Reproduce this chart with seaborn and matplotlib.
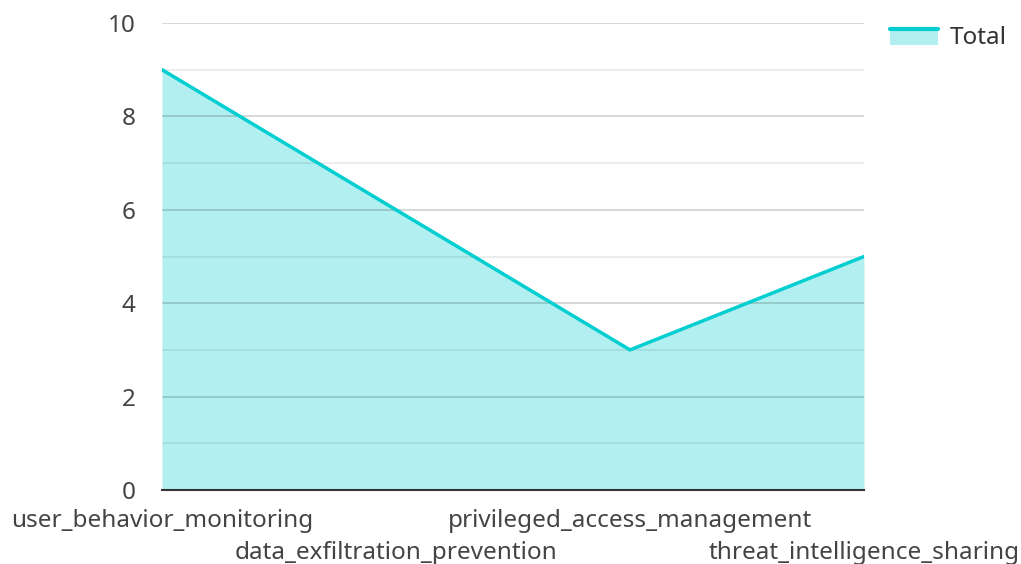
import numpy as np
import pandas as pd
import matplotlib
matplotlib.use("Agg")
import matplotlib.pyplot as plt
import seaborn as sns
from matplotlib.patches import Rectangle
from matplotlib.lines import Line2D
from matplotlib.legend_handler import HandlerBase

# data
categories = ["user_behavior_monitoring", "data_exfiltration_prevention",
              "privileged_access_management", "threat_intelligence_sharing"]
totals = [9, 6, 3, 5]

df = pd.DataFrame({"pos": np.arange(len(categories)), "category": categories, "Total": totals})

sns.set_theme(style="white")
plt.rcParams['font.family'] = ['Noto Sans', 'DejaVu Sans']

line_color = "#00CED1"
fill_color = "#B2EFF0"


# legend key: filled box with the line along its top edge
class AreaHandler(HandlerBase):
    def create_artists(self, legend, orig_handle, xdescent, ydescent, width, height, fontsize, trans):
        top = -ydescent + height * 0.85
        r = Rectangle((-xdescent, -ydescent - height * 0.1), width, top + ydescent + height * 0.1,
                      facecolor=fill_color, edgecolor="none", transform=trans)
        l = Line2D([-xdescent, -xdescent + width], [top, top], color=line_color, linewidth=3, transform=trans)
        return [r, l]


fig = plt.figure(figsize=(10.21, 5.64), dpi=100)
ax = fig.add_axes([0.1587, 0.1312, 0.6875, 0.828])

ax.fill_between(df["pos"], df["Total"], 0, color=fill_color, linewidth=0, zorder=1)
sns.lineplot(data=df, x="pos", y="Total", color=line_color, linewidth=2.5, ax=ax, zorder=3)

# grid on top of the fill
for v in range(1, 11):
    major = v % 2 == 0
    ax.axhline(v, color="black", alpha=0.2 if major else 0.09, linewidth=1.1, zorder=2)

ax.set_xlim(0, len(categories) - 1)
ax.set_ylim(0, 10)
ax.set_yticks([0, 2, 4, 6, 8, 10])
ax.set_xticks(df["pos"])
ax.set_xticklabels(categories)
ax.set_xlabel("")
ax.set_ylabel("")
ax.tick_params(axis="both", length=0, labelsize=17.5, colors="#444444")
ax.tick_params(axis="y", pad=19)
for i, tick in enumerate(ax.xaxis.get_major_ticks()):
    tick.set_pad(13.5 if i % 2 == 0 else 36.5)

for s in ["top", "right", "left"]:
    ax.spines[s].set_visible(False)
ax.spines["bottom"].set_color("#333333")
ax.spines["bottom"].set_linewidth(1.5)
ax.spines["bottom"].set_zorder(4)

leg = fig.legend(["area"], ["Total"], handler_map={str: AreaHandler()},
                 loc="center left", bbox_to_anchor=(0.850, 0.933), frameon=False,
                 fontsize=17.5, handlelength=2.0, handleheight=0.7, handletextpad=0.45)
for t in leg.get_texts():
    t.set_color("#333333")

fig.savefig("out.png", dpi=100)
